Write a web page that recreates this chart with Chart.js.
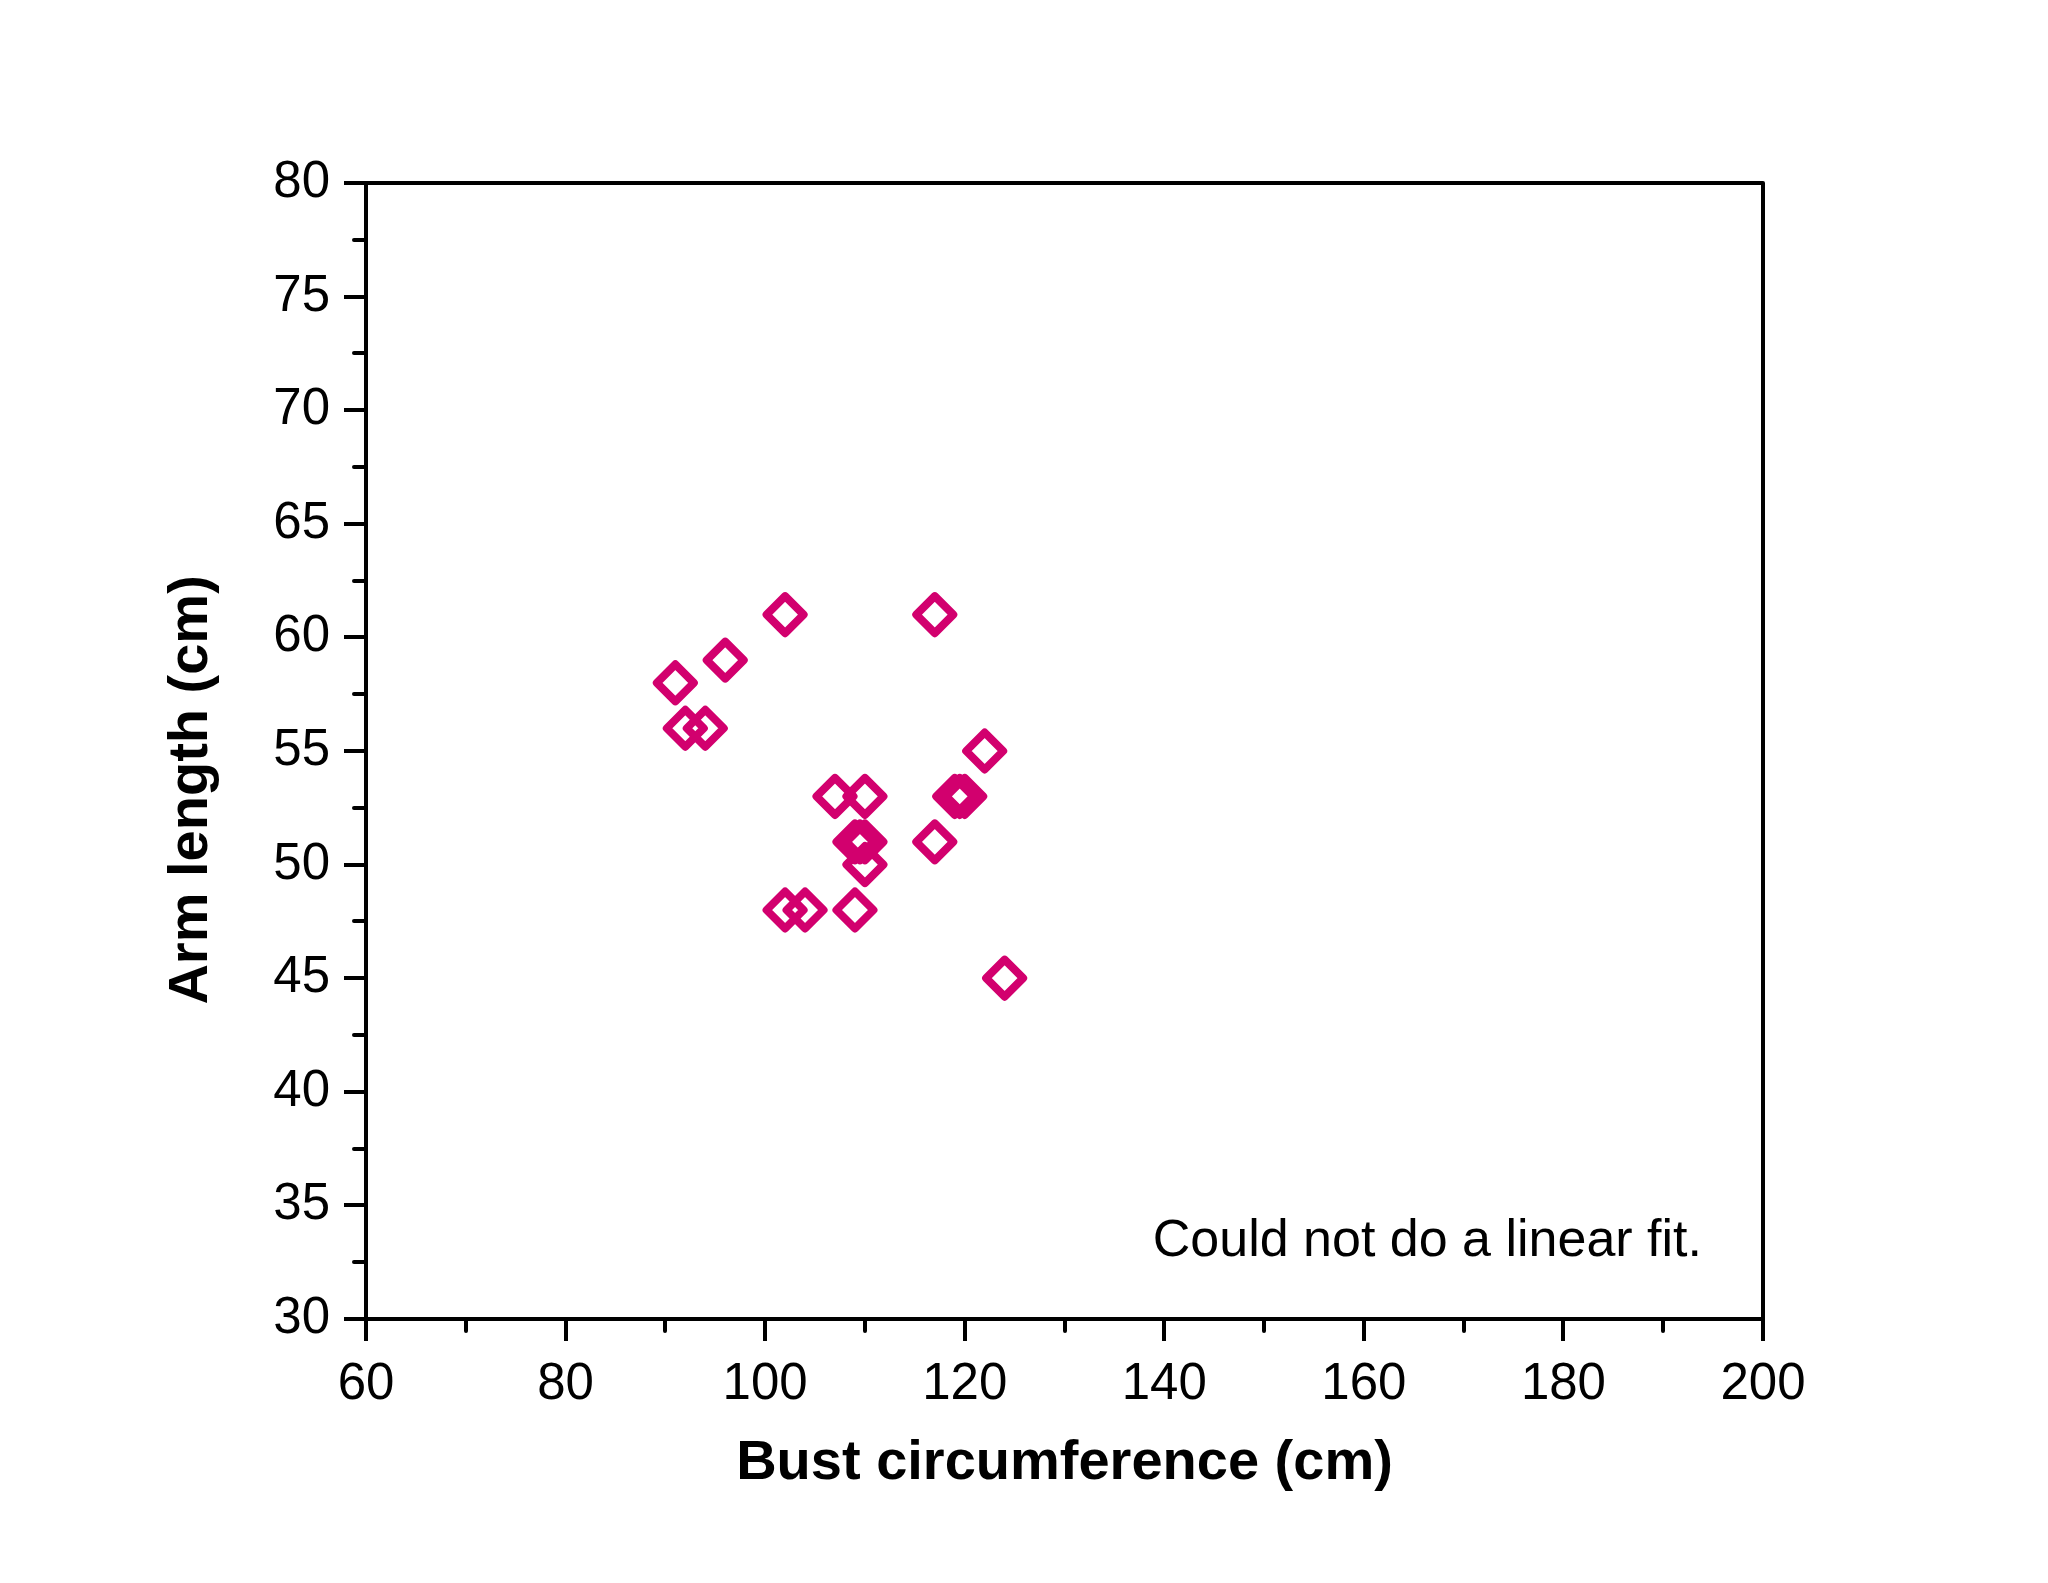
<!DOCTYPE html>
<html lang="en">

<head>
    <meta charset="UTF-8">
    <title>Arm length vs Bust circumference</title>
    <script src="https://cdn.jsdelivr.net/npm/chart.js"></script>
    <style>
        body { margin: 0; background: #fff; }
    </style>
</head>

<body>
    <canvas id="scatterChart" width="2048" height="1583"></canvas>

    <script>
        // values
        const bustCm = [91, 92, 94, 96, 102, 117, 122, 107, 110, 119, 119.5, 120, 109, 109.5, 110, 110, 117, 102, 104, 109, 124];
        const armCm = [58, 56, 56, 59, 61, 61, 55, 53, 53, 53, 53, 53, 51, 51, 51, 50, 51, 48, 48, 48, 45];
        const xRange = [60, 200];
        const yRange = [30, 80];
        const xStep = 20;
        const yStep = 5;
        const noteText = "Could not do a linear fit.";

        const points = bustCm.map((x, i) => ({ x: x, y: armCm[i] }));

        // frame on top/right, minor ticks, and the note
        const extras = {
            id: "extras",
            beforeDatasetsDraw(chart) {
                chart.ctx.lineJoin = "round";
            },
            afterDraw(chart) {
                const ctx = chart.ctx;
                const area = chart.chartArea;
                const xs = chart.scales.x;
                const ys = chart.scales.y;
                ctx.save();
                ctx.strokeStyle = "#000";
                ctx.lineWidth = 4;
                ctx.lineCap = "round";
                ctx.beginPath();
                ctx.moveTo(area.left, area.top);
                ctx.lineTo(area.right, area.top);
                ctx.lineTo(area.right, area.bottom);
                ctx.stroke();

                ctx.beginPath();
                for (let i = 0; i < xs.ticks.length - 1; i++) {
                    const mid = (xs.ticks[i].value + xs.ticks[i + 1].value) / 2;
                    const px = Math.round(xs.getPixelForValue(mid));
                    ctx.moveTo(px, area.bottom);
                    ctx.lineTo(px, area.bottom + 12);
                }
                for (let i = 0; i < ys.ticks.length - 1; i++) {
                    const mid = (ys.ticks[i].value + ys.ticks[i + 1].value) / 2;
                    const py = Math.round(ys.getPixelForValue(mid));
                    ctx.moveTo(area.left, py);
                    ctx.lineTo(area.left - 12, py);
                }
                ctx.stroke();

                ctx.fillStyle = "#000";
                ctx.font = "52px 'Liberation Sans', Arial, sans-serif";
                ctx.textAlign = "right";
                ctx.textBaseline = "middle";
                ctx.fillText(noteText, area.right - 61, area.bottom - 77);
                ctx.restore();
            }
        };

        const tickFont = { family: "'Liberation Sans', Arial, sans-serif", size: 51 };
        const titleFont = { family: "'Liberation Sans', Arial, sans-serif", size: 56, weight: "bold" };

        new Chart(document.getElementById("scatterChart"), {
            type: "scatter",
            data: {
                datasets: [{
                    label: "Arm length",
                    data: points,
                    pointStyle: "rectRot",
                    pointRadius: 18.5,
                    pointHoverRadius: 18.5,
                    pointBorderWidth: 8,
                    pointHoverBorderWidth: 8,
                    pointBorderColor: "#d2006e",
                    pointBackgroundColor: "rgba(0,0,0,0)",
                    borderColor: "#d2006e",
                    backgroundColor: "rgba(0,0,0,0)"
                }]
            },
            options: {
                responsive: false,
                animation: false,
                layout: { padding: { left: 0, top: 183, right: 285, bottom: 0 } },
                plugins: {
                    legend: { display: false },
                    tooltip: { enabled: false }
                },
                scales: {
                    x: {
                        type: "linear",
                        min: xRange[0],
                        max: xRange[1],
                        ticks: { stepSize: xStep, color: "#000", font: tickFont, padding: 13, maxRotation: 0 },
                        grid: { drawOnChartArea: false, drawTicks: true, tickLength: 22, tickWidth: 4, tickColor: "#000", color: "#000", lineWidth: 4 },
                        border: { display: true, width: 4, color: "#000" },
                        title: { display: true, text: "Bust circumference (cm)", color: "#000", font: titleFont, padding: { top: 0, bottom: 86 } },
                        afterFit(scale) { scale.height = 264; }
                    },
                    y: {
                        type: "linear",
                        min: yRange[0],
                        max: yRange[1],
                        ticks: { stepSize: yStep, color: "#000", font: tickFont, padding: 14 },
                        grid: { drawOnChartArea: false, drawTicks: true, tickLength: 22, tickWidth: 4, tickColor: "#000", color: "#000", lineWidth: 4 },
                        border: { display: true, width: 4, color: "#000" },
                        title: { display: true, text: "Arm length (cm)     ", color: "#000", font: titleFont, padding: { top: 158, bottom: 0 } },
                        afterFit(scale) { scale.width = 366; }
                    }
                }
            },
            plugins: [extras]
        });
    </script>
</body>

</html>
